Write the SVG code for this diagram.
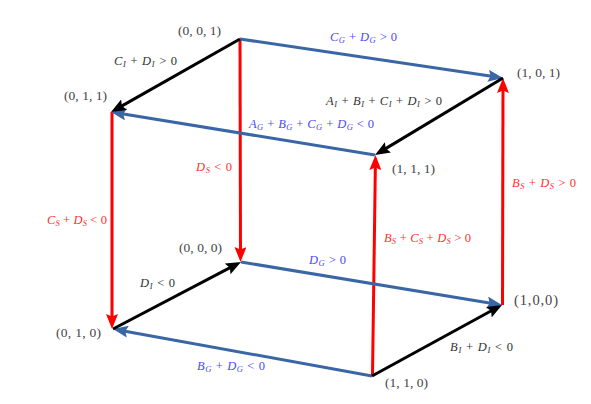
<svg xmlns="http://www.w3.org/2000/svg" width="591" height="404" viewBox="0 0 591 404">
<style>
.bg{fill:#ffffff}
.e{fill:none;stroke-width:3;stroke-linecap:butt}
.eb{stroke:#3a66a6}
.er{stroke:#ff0000}
.ek{stroke:#000000}
.v{font-family:"Liberation Serif","DejaVu Serif",serif;font-size:13.5px;fill:#444444}
.l{font-family:"Liberation Serif","DejaVu Serif",serif;font-size:12.5px;fill:#333333}
.lb{fill:#4a4aff}
.lr{fill:#ff3030}
.i{font-style:italic}
.s{font-size:8.5px}
</style>
<defs>
<marker id="ab" viewBox="0 0 15 12" markerWidth="15" markerHeight="12" markerUnits="userSpaceOnUse" refX="7" refY="6" orient="auto"><path d="M0,0 L15,6 L0,12 L2.5,6 z" fill="#3a66a6"/></marker>
<marker id="ar" viewBox="0 0 15 12" markerWidth="15" markerHeight="12" markerUnits="userSpaceOnUse" refX="7" refY="6" orient="auto"><path d="M0,0 L15,6 L0,12 L2.5,6 z" fill="#ff0000"/></marker>
<marker id="ak" viewBox="0 0 15 12" markerWidth="15" markerHeight="12" markerUnits="userSpaceOnUse" refX="7" refY="6" orient="auto"><path d="M0,0 L15,6 L0,12 L2.5,6 z" fill="#000000"/></marker>
</defs>
<rect class="bg" x="0" y="0" width="591" height="404"/>
<g id="connectors">
  <g id="e-001-000">
    <line class="e er" x1="240" y1="39" x2="240.5" y2="254" marker-end="url(#ar)"/>
    <text class="l lr" x="196" y="171" textLength="36"><tspan class="i">D</tspan><tspan class="i s" dy="2">S</tspan><tspan dy="-2"> &lt; 0</tspan></text>
  </g>
  <g id="e-011-010">
    <line class="e er" x1="112" y1="112" x2="112" y2="321" marker-end="url(#ar)"/>
    <text class="l lr" x="47" y="224" textLength="60"><tspan class="i">C</tspan><tspan class="i s" dy="2">S</tspan><tspan dy="-2"> + </tspan><tspan class="i">D</tspan><tspan class="i s" dy="2">S</tspan><tspan dy="-2"> &lt; 0</tspan></text>
  </g>
  <g id="e-110-111">
    <line class="e er" x1="372.5" y1="376" x2="375.4" y2="163" marker-end="url(#ar)"/>
    <text class="l lr" x="384" y="242" textLength="87"><tspan class="i">B</tspan><tspan class="i s" dy="2">S</tspan><tspan dy="-2"> + </tspan><tspan class="i">C</tspan><tspan class="i s" dy="2">S</tspan><tspan dy="-2"> + </tspan><tspan class="i">D</tspan><tspan class="i s" dy="2">S</tspan><tspan dy="-2"> &gt; 0</tspan></text>
  </g>
  <g id="e-100-101">
    <line class="e er" x1="502.5" y1="305" x2="503" y2="86" marker-end="url(#ar)"/>
    <text class="l lr" x="512" y="187" textLength="64"><tspan class="i">B</tspan><tspan class="i s" dy="2">S</tspan><tspan dy="-2"> + </tspan><tspan class="i">D</tspan><tspan class="i s" dy="2">S</tspan><tspan dy="-2"> &gt; 0</tspan></text>
  </g>
  <g id="e-001-101">
    <line class="e eb" x1="240" y1="39" x2="495.1" y2="76.8" marker-end="url(#ab)"/>
    <text class="l lb" x="330" y="41" textLength="67"><tspan class="i">C</tspan><tspan class="i s" dy="2">G</tspan><tspan dy="-2"> + </tspan><tspan class="i">D</tspan><tspan class="i s" dy="2">G</tspan><tspan dy="-2"> &gt; 0</tspan></text>
  </g>
  <g id="e-111-011">
    <line class="e eb" x1="375" y1="155" x2="118.9" y2="113.3" marker-end="url(#ab)"/>
    <text class="l lb" x="249" y="128" textLength="125"><tspan class="i">A</tspan><tspan class="i s" dy="2">G</tspan><tspan dy="-2"> + </tspan><tspan class="i">B</tspan><tspan class="i s" dy="2">G</tspan><tspan dy="-2"> + </tspan><tspan class="i">C</tspan><tspan class="i s" dy="2">G</tspan><tspan dy="-2"> + </tspan><tspan class="i">D</tspan><tspan class="i s" dy="2">G</tspan><tspan dy="-2"> &lt; 0</tspan></text>
  </g>
  <g id="e-000-100">
    <line class="e eb" x1="241" y1="262" x2="494.1" y2="303.7" marker-end="url(#ab)"/>
    <text class="l lb" x="309" y="264" textLength="37"><tspan class="i">D</tspan><tspan class="i s" dy="2">G</tspan><tspan dy="-2"> &gt; 0</tspan></text>
  </g>
  <g id="e-110-010">
    <line class="e eb" x1="372" y1="376" x2="120.9" y2="330.4" marker-end="url(#ab)"/>
    <text class="l lb" x="197" y="370" textLength="68"><tspan class="i">B</tspan><tspan class="i s" dy="2">G</tspan><tspan dy="-2"> + </tspan><tspan class="i">D</tspan><tspan class="i s" dy="2">G</tspan><tspan dy="-2"> &lt; 0</tspan></text>
  </g>
  <g id="e-001-011">
    <line class="e ek" x1="240" y1="39" x2="118" y2="108.1" marker-end="url(#ak)"/>
    <text class="l" x="114" y="65" textLength="63"><tspan class="i">C</tspan><tspan class="i s" dy="2">I</tspan><tspan dy="-2"> + </tspan><tspan class="i">D</tspan><tspan class="i s" dy="2">I</tspan><tspan dy="-2"> &gt; 0</tspan></text>
  </g>
  <g id="e-101-111">
    <line class="e ek" x1="503" y1="78" x2="381.9" y2="150.9" marker-end="url(#ak)"/>
    <text class="l" x="326" y="105" textLength="116"><tspan class="i">A</tspan><tspan class="i s" dy="2">I</tspan><tspan dy="-2"> + </tspan><tspan class="i">B</tspan><tspan class="i s" dy="2">I</tspan><tspan dy="-2"> + </tspan><tspan class="i">C</tspan><tspan class="i s" dy="2">I</tspan><tspan dy="-2"> + </tspan><tspan class="i">D</tspan><tspan class="i s" dy="2">I</tspan><tspan dy="-2"> &gt; 0</tspan></text>
  </g>
  <g id="e-010-000">
    <line class="e ek" x1="113" y1="329" x2="233.9" y2="265.7" marker-end="url(#ak)"/>
    <text class="l" x="140" y="287" textLength="35"><tspan class="i">D</tspan><tspan class="i s" dy="2">I</tspan><tspan dy="-2"> &lt; 0</tspan></text>
  </g>
  <g id="e-110-100">
    <line class="e ek" x1="372" y1="376" x2="495" y2="308.8" marker-end="url(#ak)"/>
    <text class="l" x="450" y="351" textLength="63"><tspan class="i">B</tspan><tspan class="i s" dy="2">I</tspan><tspan dy="-2"> + </tspan><tspan class="i">D</tspan><tspan class="i s" dy="2">I</tspan><tspan dy="-2"> &lt; 0</tspan></text>
  </g>
</g>
<g id="n001"><text class="v" x="178" y="35" textLength="43">(0, 0, 1)</text></g>
<g id="n011"><text class="v" x="64" y="100" textLength="43">(0, 1, 1)</text></g>
<g id="n101"><text class="v" x="517" y="77" textLength="43">(1, 0, 1)</text></g>
<g id="n111"><text class="v" x="392" y="173" textLength="43">(1, 1, 1)</text></g>
<g id="n000"><text class="v" x="179" y="252" textLength="43">(0, 0, 0)</text></g>
<g id="n010"><text class="v" x="56" y="337" textLength="45">(0, 1, 0)</text></g>
<g id="n100"><text class="v" x="514" y="305" style="font-size:14.5px" textLength="44">(1,0,0)</text></g>
<g id="n110"><text class="v" x="385" y="387" textLength="43">(1, 1, 0)</text></g>
</svg>
